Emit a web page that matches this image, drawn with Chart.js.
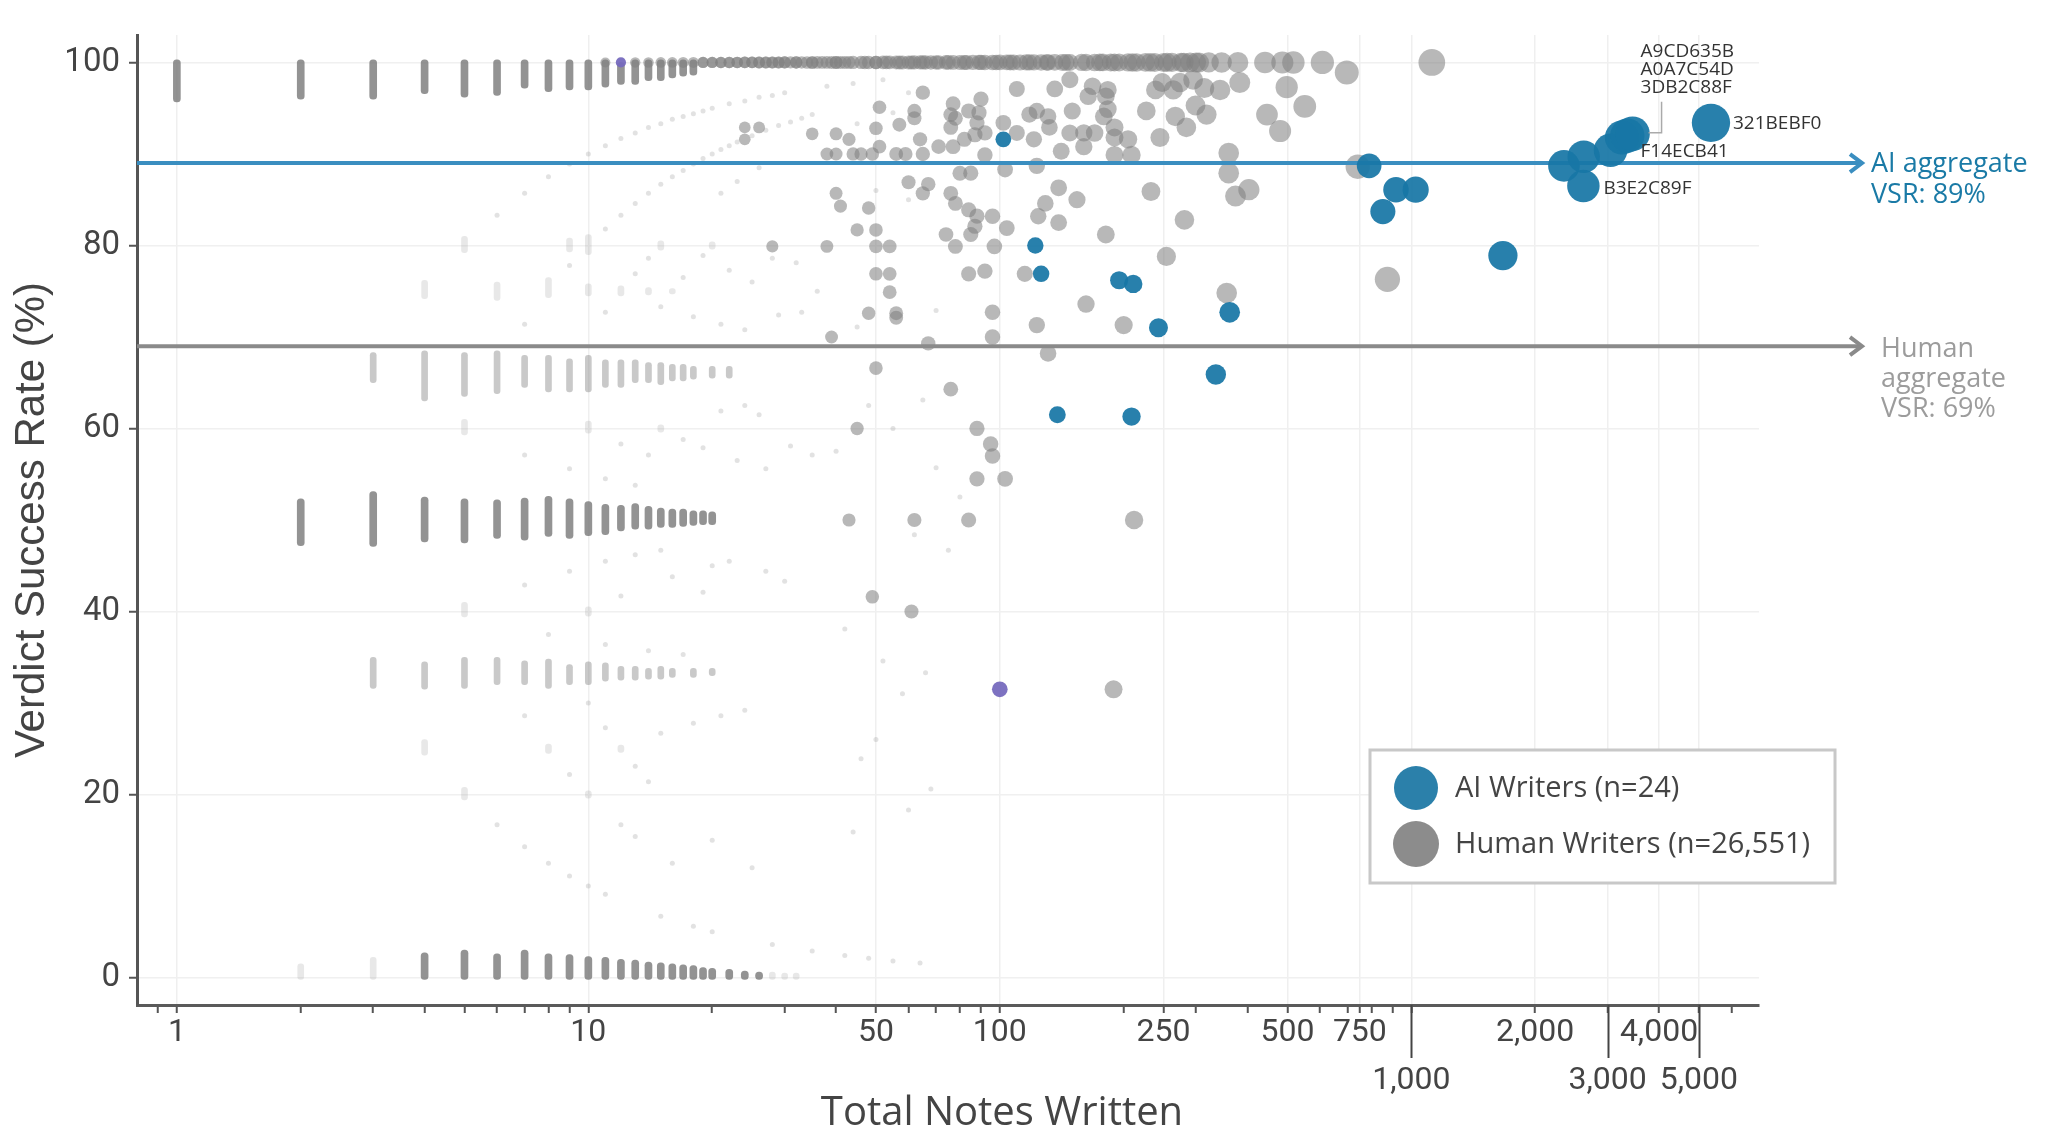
<!DOCTYPE html>
<html lang="en">
<head>
<meta charset="utf-8">
<title>Verdict Success Rate vs Total Notes Written</title>
<script src="https://cdn.jsdelivr.net/npm/chart.js@4.4.1/dist/chart.umd.min.js"></script>
<style>
    html, body { margin: 0; padding: 0; background: #ffffff; }
    #wrap { width: 2048px; height: 1142px; }
</style>
</head>
<body>
<div id="wrap"><canvas id="vsrChart" width="2048" height="1142"></canvas></div>
<script>

/*
============================================================
Aggregates
============================================================
*/

const aiAggregate = 89;

const humanAggregate = 69;

/*
============================================================
AI writers (notes written, verdict success rate %)
============================================================
*/

const aiNotes = [102, 122, 126, 138, 195, 209, 211, 243, 335, 362, 790, 853, 918, 1025, 1670, 2350, 2620, 2625, 3050, 3250, 3350, 3450, 5350];

const aiVsr = [91.6, 80.0, 76.9, 61.5, 76.2, 61.3, 75.8, 71.0, 65.9, 72.7, 88.7, 83.7, 86.1, 86.1, 78.9, 88.7, 86.5, 89.7, 90.4, 91.8, 92.0, 92.2, 93.4];

const aiNames = ["", "", "", "", "", "", "", "", "", "", "", "", "", "", "", "", "B3E2C89F", "", "F14ECB41", "3DB2C88F", "A0A7C54D", "A9CD635B", "321BEBF0"];

const aiOtherNotes = [12, 100];

const aiOtherVsr = [100, 31.5];

/*
============================================================
Human writers: individual circles
============================================================
*/

// writers sitting at a 100% success rate
const humanPerfectNotes = [
    11, 13, 14, 15, 16, 17, 18, 19, 20, 21, 22, 23, 24, 25, 26, 27, 28, 29, 30, 31,
    32, 34, 35, 36, 38, 39, 40, 42, 43, 46, 48, 50, 52, 54, 56, 58, 60, 62, 64, 66,
    68, 71, 74, 77, 80, 83, 86, 89, 92, 96, 100, 104, 108, 112, 116, 121, 126, 131, 136, 142,
    148, 162, 170, 178, 186, 195, 205, 215, 226, 238, 250, 262, 276, 290, 305, 322, 346, 379, 441, 486,
    517, 608, 1122,
    19, 20, 21, 22, 23, 24, 25, 26, 27, 28, 29, 30, 32, 33, 35, 37, 40, 41, 44, 47,
    50, 53, 57, 61, 65, 70, 75, 82, 90, 98, 106, 118, 130, 145, 158, 175, 190, 210, 232, 255,
    280, 300
];

const humanNotes = [
    24, 26, 24, 35, 40, 43, 38, 40, 44, 46,
    49, 56, 59, 65, 51, 50, 51, 57, 62, 62,
    65, 64, 71, 77, 76, 76, 78, 84, 89, 90,
    88, 92, 82, 87, 77, 92, 102, 110, 110, 118,
    121, 123, 131, 132, 136, 141, 148, 150, 148, 160,
    160, 168, 164, 170, 183, 181, 183, 179, 190, 190,
    190, 205, 209, 227, 245, 239, 248, 264, 274, 295,
    314, 267, 284, 299, 318, 343, 383, 360, 360, 374,
    403, 446, 480, 498, 551, 697, 233, 281, 254, 356,
    181, 162, 200, 131, 123, 123, 103, 139, 129, 154,
    124, 139, 104, 96, 88, 87, 85, 84, 74, 78,
    97, 76, 78, 80, 85, 60, 67, 65, 40, 41,
    48, 45, 50, 28, 38, 50, 54, 50, 54, 54,
    48, 56, 56, 39, 50, 67, 76, 84, 92, 115,
    96, 96, 741, 875, 45, 88, 95, 96, 88, 103,
    49, 61, 189, 43, 62, 84, 212
];

const humanVsr = [
    92.9, 92.9, 91.6, 92.2, 92.2, 91.6, 90.0, 90.0, 90.0, 90.0,
    90.0, 90.0, 90.0, 90.0, 95.1, 92.8, 90.8, 93.2, 94.7, 93.9,
    96.7, 91.6, 90.8, 95.5, 94.3, 92.9, 93.9, 94.7, 94.5, 96.0,
    93.4, 92.3, 91.6, 92.1, 90.8, 89.9, 93.4, 97.1, 92.3, 94.3,
    91.6, 94.7, 94.1, 92.9, 97.1, 90.3, 98.1, 94.7, 92.3, 92.3,
    90.8, 97.4, 96.3, 92.3, 97.0, 96.3, 94.9, 94.1, 92.9, 91.8,
    89.9, 91.6, 89.9, 94.7, 91.8, 97.0, 97.8, 97.0, 97.8, 98.1,
    97.2, 94.1, 92.9, 95.3, 94.3, 97.0, 97.8, 90.1, 87.9, 85.4,
    86.1, 94.3, 92.5, 97.3, 95.2, 98.9, 85.9, 82.8, 78.8, 74.8,
    81.2, 73.6, 71.3, 68.2, 71.3, 88.7, 88.3, 86.3, 84.6, 85.0,
    83.2, 82.5, 81.9, 83.2, 83.2, 82.1, 81.2, 83.9, 81.2, 79.9,
    79.9, 85.7, 84.6, 87.9, 87.9, 86.9, 86.7, 85.7, 85.7, 84.3,
    84.1, 81.7, 81.7, 79.9, 79.9, 79.9, 79.9, 76.9, 76.9, 74.9,
    72.6, 72.6, 72.1, 70.0, 66.6, 69.3, 64.3, 76.9, 77.2, 76.9,
    72.7, 70.0, 88.6, 76.3, 60.0, 60.0, 58.3, 57.0, 54.5, 54.5,
    41.6, 40.0, 31.5, 50.0, 50.0, 50.0, 50.0
];

/*
============================================================
Human writers: low-count columns (range of stacked marks)
============================================================
*/

const denseNotes = [
    1, 2, 3, 4, 5, 6, 7, 8, 9, 10, 11, 12, 13, 14, 15, 16, 17, 18,
    2, 3, 4, 5, 6, 7, 8, 9, 10, 11, 12, 13, 14, 15, 16, 17, 18, 19, 20,
    4, 5, 6, 7, 8, 9, 10, 11, 12, 13, 14, 15, 16, 17, 18, 19, 20, 22, 24, 26
];

const denseLow = [
    95.7, 96.0, 96.0, 96.6, 96.2, 96.4, 97.2, 96.8, 97.0, 97.0, 97.3, 97.6, 97.6, 98.0, 98.0, 98.3, 98.5, 98.6,
    47.2, 47.1, 47.6, 47.5, 48.0, 47.8, 48.2, 48.0, 48.3, 48.4, 48.8, 49.0, 49.0, 49.2, 49.2, 49.3, 49.4, 49.5, 49.5,
    -0.2, -0.2, -0.2, -0.2, -0.2, -0.2, -0.2, -0.2, -0.2, -0.2, -0.2, -0.2, -0.2, -0.2, -0.2, -0.2, -0.2, -0.2, -0.2, -0.2
];

const denseHigh = [
    100.3, 100.3, 100.3, 100.3, 100.3, 100.3, 100.3, 100.3, 100.3, 100.3, 100.3, 100.0, 100.3, 100.3, 100.3, 100.3, 100.3, 100.3,
    52.3, 53.1, 52.5, 52.3, 52.2, 52.4, 52.6, 52.3, 52.0, 51.7, 51.6, 51.8, 51.5, 51.3, 51.2, 51.2, 51.0, 51.0, 50.9,
    2.7, 3.0, 2.6, 3.0, 2.6, 2.5, 2.3, 2.2, 2.0, 1.9, 1.7, 1.6, 1.5, 1.4, 1.3, 1.1, 1.0, 0.9, 0.7, 0.6
];

const mediumNotes = [
    3, 4, 5, 6, 7, 8, 9, 10, 11, 12, 13, 14, 15, 16, 17, 18, 20, 22,
    3, 4, 5, 6, 7, 8, 9, 10, 11, 12, 13, 14, 15, 16, 18, 20
];

const mediumLow = [
    65.0, 63.0, 63.5, 63.8, 64.5, 64.0, 64.0, 64.0, 64.5, 64.5, 65.0, 65.0, 64.8, 65.2, 65.2, 65.4, 65.5, 65.5,
    31.6, 31.5, 31.6, 32.0, 32.0, 31.6, 32.0, 32.0, 32.4, 32.5, 32.5, 32.6, 32.6, 32.8, 32.8, 33.0
];

const mediumHigh = [
    68.3, 68.5, 68.3, 68.5, 68.0, 68.0, 67.6, 68.0, 67.5, 67.5, 67.5, 67.2, 67.2, 67.0, 67.0, 66.8, 66.8, 66.8,
    35.0, 34.5, 35.0, 35.0, 34.6, 34.8, 34.2, 34.5, 34.4, 34.0, 34.0, 33.8, 34.0, 33.8, 33.8, 33.8
];

const faintNotes = [4, 6, 8, 10, 12, 14, 16, 5, 9, 10, 15, 20, 5, 10, 15, 5, 10, 4, 8, 12, 5, 10, 2, 3, 28, 30, 32];

const faintLow = [74.2, 74.0, 74.3, 74.5, 74.5, 74.6, 74.7, 79.2, 79.3, 79.0, 79.5, 79.6, 59.3, 59.5, 59.6, 39.4, 39.5, 24.3, 24.5, 24.6, 19.4, 19.6, -0.2, -0.2, -0.2, -0.2, -0.2];

const faintHigh = [76.2, 76.0, 76.5, 75.8, 75.6, 75.4, 75.3, 81.0, 80.8, 81.2, 80.5, 80.4, 61.0, 60.8, 60.4, 41.0, 40.5, 26.0, 25.5, 25.4, 20.8, 20.4, 1.5, 2.2, 0.6, 0.5, 0.5];

/*
============================================================
Human writers: scattered sparse marks
============================================================
*/

const sparseNotes = [
    9, 10, 11, 12, 13, 14, 15, 16, 17, 18, 19, 20, 12, 14, 16, 18, 20, 22, 13, 15,
    17, 19, 21, 23, 25, 22, 24, 26, 28, 30, 27, 29, 31, 33, 35, 21, 23, 26, 6, 7,
    8, 11, 7, 9, 11, 13, 14, 17, 19, 22, 25, 28, 32, 15, 18, 21, 24, 29, 33, 36,
    9, 11, 13, 7, 12, 14, 17, 19, 23, 27, 31, 35, 40, 24, 21, 26, 9, 11, 7, 13,
    16, 19, 22, 27, 30, 12, 15, 20, 8, 11, 14, 17, 9, 11, 13, 15, 7, 10, 18, 21,
    24, 14, 9, 10, 12, 13, 16, 20, 25, 6, 7, 8, 11, 15, 18, 20, 28, 35, 42, 48,
    55, 64, 38, 44, 52, 60, 45, 55, 50, 60, 45, 70, 65, 55, 48, 70, 80, 62, 75, 42,
    52, 66, 58, 50, 46, 68, 60, 44
];

const sparseVsr = [
    88.9, 90.0, 90.9, 91.7, 92.3, 92.9, 93.3, 93.8, 94.1, 94.4, 94.7, 95.0, 83.3, 85.7, 87.5, 88.9, 90.0, 90.9, 84.6, 86.7,
    88.2, 89.5, 90.5, 91.3, 92.0, 95.5, 95.8, 96.2, 96.4, 96.7, 92.6, 93.1, 93.5, 93.9, 94.3, 85.7, 87.0, 88.5, 83.3, 85.7,
    87.5, 81.8, 71.4, 77.8, 72.7, 76.9, 78.6, 76.5, 78.9, 77.3, 76.0, 78.6, 78.1, 73.3, 72.2, 71.4, 70.8, 72.4, 72.7, 75.0,
    55.6, 54.5, 53.8, 57.1, 58.3, 57.1, 58.8, 57.9, 56.5, 55.6, 58.1, 57.1, 57.5, 62.5, 61.9, 61.5, 44.4, 45.5, 42.9, 46.2,
    43.8, 42.1, 45.5, 44.4, 43.3, 41.7, 46.7, 45.0, 37.5, 36.4, 35.7, 35.3, 22.2, 27.3, 23.1, 26.7, 28.6, 30.0, 27.8, 28.6,
    29.2, 21.4, 11.1, 10.0, 16.7, 15.4, 12.5, 15.0, 12.0, 16.7, 14.3, 12.5, 9.1, 6.7, 5.6, 5.0, 3.6, 2.9, 2.4, 2.1,
    1.8, 1.6, 97.4, 97.7, 98.1, 96.7, 93.3, 94.5, 86.0, 85.0, 71.1, 72.9, 63.1, 60.0, 62.5, 55.7, 52.5, 48.4, 46.7, 38.1,
    34.6, 33.3, 31.0, 26.0, 23.9, 20.6, 18.3, 15.9
];

/*
============================================================
Axis ticks
============================================================
*/

const yTickValues = [0, 20, 40, 60, 80, 100];

const xTickValues = [0.9, 1, 2, 3, 4, 5, 6, 7, 8, 9, 10, 20, 30, 40, 50, 60, 70, 80, 90, 100, 200, 250, 300, 400, 500, 600, 700, 750, 800, 900, 1000, 2000, 3000, 4000, 5000, 6000];

const xLabelValues = [1, 10, 50, 100, 250, 500, 750, 2000, 4000];

const xLowerLabelValues = [1000, 3000, 5000];

/*
============================================================
Helpers
============================================================
*/

function toPoints(notes, values) {

    return notes.map((n, i) => ({ x: n, y: values[i] }));

}

function toRanges(notes, low, high) {

    return notes.map((n, i) => ({ x: n, y: [low[i], high[i]] }));

}

function bubbleRadius(ctx) {

    if (!ctx.raw) {

        return 3;

    }

    return 1.2 + 2.1 * Math.pow(ctx.raw.x, 0.25);

}

function formatNumber(v) {

    return Number(v).toLocaleString("en-US");

}

const FONT_TEXT = "\"Open Sans\", \"DejaVu Sans\", sans-serif";

/*
============================================================
Overlay plugin: aggregate lines, labels, legend
============================================================
*/

function drawAggregate(chart, value, color) {

    const ctx = chart.ctx;

    const y = chart.scales.y.getPixelForValue(value);

    const x0 = chart.chartArea.left;

    const tip = chart.chartArea.right + 103;

    ctx.save();

    ctx.strokeStyle = color;

    ctx.lineWidth = 4;

    ctx.beginPath();

    ctx.moveTo(x0, y);

    ctx.lineTo(tip - 2, y);

    ctx.stroke();

    ctx.lineJoin = "miter";

    ctx.beginPath();

    ctx.moveTo(tip - 12, y - 9);

    ctx.lineTo(tip, y);

    ctx.lineTo(tip - 12, y + 9);

    ctx.stroke();

    ctx.restore();

}

function drawLines(ctx, lines, x, y, step) {

    lines.forEach((line, i) => {

        ctx.fillText(line, x, y + i * step);

    });

}

const overlayPlugin = {

    id: "overlay",

    afterDatasetDraw(chart, args) {

        if (chart.data.datasets[args.index].label !== "Human Writers") {

            return;

        }

        drawAggregate(chart, humanAggregate, "#8a8a8a");

        drawAggregate(chart, aiAggregate, "#3a8ec0");

    },

    afterDraw(chart) {

        const ctx = chart.ctx;

        const area = chart.chartArea;

        const yScale = chart.scales.y;

        const xScale = chart.scales.x;

        const tip = area.right + 103;

        ctx.save();

        /* aggregate captions */

        ctx.textBaseline = "middle";

        ctx.textAlign = "left";

        ctx.font = "27px " + FONT_TEXT;

        ctx.fillStyle = "#1a7aa6";

        drawLines(ctx, ["AI aggregate", "VSR: " + aiAggregate + "%"], tip + 9, yScale.getPixelForValue(aiAggregate) + 1, 31);

        ctx.fillStyle = "#9c9c9c";

        drawLines(ctx, ["Human", "aggregate", "VSR: " + humanAggregate + "%"], tip + 19, yScale.getPixelForValue(humanAggregate) + 3, 30);

        /* long ticks for the lower label row */

        ctx.strokeStyle = "#444";

        ctx.lineWidth = 2;

        xLowerLabelValues.forEach(v => {

            const x = Math.round(xScale.getPixelForValue(v)) + 0.5;

            ctx.beginPath();

            ctx.moveTo(x, area.bottom);

            ctx.lineTo(x, area.bottom + 53);

            ctx.stroke();

        });

        /* x axis title */

        ctx.fillStyle = "#444";

        ctx.textAlign = "center";

        ctx.font = "40px " + FONT_TEXT;

        ctx.fillText("Total Notes Written", 1002, 1114);

        /* writer id labels */

        const meta = chart.getDatasetMeta(0);

        ctx.font = "19px " + FONT_TEXT;

        ctx.fillStyle = "#333";

        ctx.textAlign = "left";

        const pt = i => meta.data[i];

        const idx = name => aiNames.indexOf(name);

        const p1 = pt(idx("321BEBF0"));

        ctx.fillText("321BEBF0", p1.x + 22, p1.y + 1);

        const p2 = pt(idx("F14ECB41"));

        ctx.fillText("F14ECB41", p2.x + 30, p2.y + 1);

        const p3 = pt(idx("B3E2C89F"));

        ctx.fillText("B3E2C89F", p3.x + 20, p3.y + 3);

        const p4 = pt(idx("A9CD635B"));

        drawLines(ctx, ["A9CD635B", "A0A7C54D", "3DB2C88F"], p4.x + 8, p4.y - 82, 18);

        ctx.strokeStyle = "#aaaaaa";

        ctx.lineWidth = 1.5;

        ctx.beginPath();

        ctx.moveTo(p4.x + 29, p4.y - 32);

        ctx.lineTo(p4.x + 29, p4.y - 1);

        ctx.lineTo(p4.x + 16, p4.y - 1);

        ctx.stroke();

        /* legend */

        ctx.fillStyle = "#ffffff";

        ctx.fillRect(1370, 750, 465, 133);

        ctx.strokeStyle = "#c8c8c8";

        ctx.lineWidth = 3;

        ctx.strokeRect(1370, 750, 465, 133);

        ctx.fillStyle = "#2b80aa";

        ctx.beginPath();

        ctx.arc(1416, 788, 22, 0, Math.PI * 2);

        ctx.fill();

        ctx.fillStyle = "#8c8c8c";

        ctx.beginPath();

        ctx.arc(1416, 844, 23, 0, Math.PI * 2);

        ctx.fill();

        ctx.fillStyle = "#444";

        ctx.font = "29px " + FONT_TEXT;

        ctx.fillText("AI Writers (n=24)", 1455, 789);

        ctx.fillText("Human Writers (n=26,551)", 1455, 845);

        ctx.restore();

    }

};

/*
============================================================
Chart
============================================================
*/

const canvas = document.getElementById("vsrChart");

new Chart(canvas, {

    type: "scatter",

    data: {

        datasets: [

            {
                label: "AI Writers",
                data: toPoints(aiNotes, aiVsr),
                backgroundColor: "rgba(24, 118, 166, 0.93)",
                borderWidth: 0,
                radius: bubbleRadius,
                order: 0
            },

            {
                label: "AI Writers (other)",
                data: toPoints(aiOtherNotes, aiOtherVsr),
                backgroundColor: "rgba(118, 106, 190, 0.95)",
                borderWidth: 0,
                radius: bubbleRadius,
                order: 1
            },

            {
                label: "Human Writers",
                data: toPoints(humanPerfectNotes, humanPerfectNotes.map(() => 100)).concat(toPoints(humanNotes, humanVsr)),
                backgroundColor: "rgba(128, 128, 128, 0.56)",
                borderWidth: 0,
                radius: bubbleRadius,
                order: 2
            },

            {
                label: "Human sparse",
                data: toPoints(sparseNotes, sparseVsr),
                backgroundColor: "rgba(140, 140, 140, 0.25)",
                borderWidth: 0,
                radius: 2.5,
                order: 3
            },

            {
                type: "bar",
                label: "Human faint columns",
                data: toRanges(faintNotes, faintLow, faintHigh),
                backgroundColor: "rgba(150, 150, 150, 0.22)",
                barThickness: 6,
                borderRadius: 3,
                borderSkipped: false,
                grouped: false,
                order: 4
            },

            {
                type: "bar",
                label: "Human medium columns",
                data: toRanges(mediumNotes, mediumLow, mediumHigh),
                backgroundColor: "rgba(135, 135, 135, 0.45)",
                barThickness: 6,
                borderRadius: 3,
                borderSkipped: false,
                grouped: false,
                order: 5
            },

            {
                type: "bar",
                label: "Human dense columns",
                data: toRanges(denseNotes, denseLow, denseHigh),
                backgroundColor: "rgba(120, 120, 120, 0.8)",
                barThickness: 7,
                borderRadius: 3.5,
                borderSkipped: false,
                grouped: false,
                order: 6
            }

        ]

    },

    options: {

        responsive: false,

        devicePixelRatio: 1,

        animation: false,

        events: [],

        layout: {
            padding: { top: 35, right: 289, bottom: 0, left: 0 }
        },

        plugins: {
            legend: { display: false },
            tooltip: { enabled: false }
        },

        scales: {

            x: {
                type: "logarithmic",
                min: 0.8,
                max: 7000,
                offset: false,
                afterBuildTicks: axis => {
                    axis.ticks = xTickValues.map(v => ({ value: v }));
                },
                afterFit: scale => {
                    scale.height = 137;
                },
                ticks: {
                    autoSkip: false,
                    maxRotation: 0,
                    minRotation: 0,
                    padding: -4,
                    color: "#444",
                    font: { family: "Roboto", size: 32, lineHeight: 1.5 },
                    callback: value => {
                        if (xLabelValues.includes(value)) {
                            return formatNumber(value);
                        }
                        if (xLowerLabelValues.includes(value)) {
                            return ["", formatNumber(value)];
                        }
                        return "";
                    }
                },
                grid: {
                    offset: false,
                    lineWidth: 1.5,
                    color: ctx => (ctx.tick && (xLabelValues.includes(ctx.tick.value) || xLowerLabelValues.includes(ctx.tick.value))) ? "#efefef" : "rgba(0,0,0,0)",
                    tickColor: "#555",
                    tickWidth: 2,
                    tickLength: 8
                },
                border: { color: "#5a5a5a", width: 3 },
                title: { display: false }
            },

            y: {
                type: "linear",
                min: -3,
                max: 103,
                afterBuildTicks: axis => {
                    axis.ticks = yTickValues.map(v => ({ value: v }));
                },
                afterFit: scale => {
                    scale.width = 137;
                },
                ticks: {
                    padding: 9,
                    color: "#444",
                    font: { family: "Roboto", size: 33 }
                },
                grid: {
                    lineWidth: 1.5,
                    color: "#f0f0f0",
                    tickColor: "#555",
                    tickWidth: 2,
                    tickLength: 8
                },
                border: { color: "#555", width: 3 },
                title: {
                    display: true,
                    text: "Verdict Success Rate (%)",
                    color: "#444",
                    font: { family: "Liberation Sans", size: 42 },
                    padding: { top: 7, bottom: 0 }
                }
            }

        }

    },

    plugins: [overlayPlugin]

});

</script>
</body>
</html>
